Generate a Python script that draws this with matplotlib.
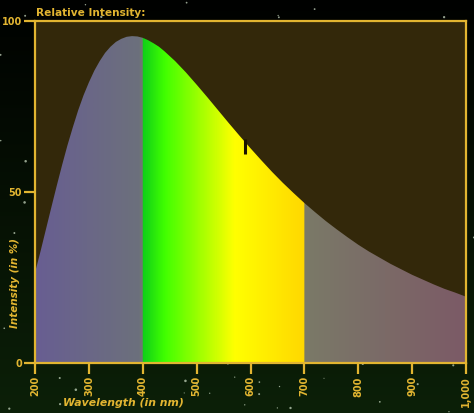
import matplotlib
matplotlib.use('Agg')
import matplotlib.pyplot as plt
import numpy as np
from matplotlib.colors import LinearSegmentedColormap

# values (relative intensity in %)
wavelength = [200, 210, 220, 230, 240, 250, 260, 270, 280, 290, 300, 310, 320, 330,
              340, 350, 360, 370, 380, 390, 400, 410, 420, 430, 440, 460,
              480, 500, 520, 540, 560, 580, 600, 620, 640, 660, 680, 700, 720, 740,
              760, 780, 800, 820, 840, 860, 880, 900, 920, 940, 960, 980, 1000]
intensity = [26.5, 32.6, 39.0, 45.4, 51.7, 57.8, 63.6, 68.9, 73.9, 78.3, 82.1, 85.5,
             88.3, 90.7, 92.5, 93.9, 94.8, 95.4, 95.6, 95.5, 95.1, 94.4, 93.5, 92.5,
             91.2, 88.3, 85.0, 81.4, 77.7, 73.9, 70.1, 66.4, 62.8, 59.3, 55.9, 52.7,
             49.7, 46.8, 44.1, 41.5, 39.1, 36.8, 34.6, 32.6, 30.8, 29.0, 27.4, 25.8,
             24.4, 23.0, 21.7, 20.6, 19.4]
marker_wl = 590
marker_range = [61, 65.5]
xticks = [200, 300, 400, 500, 600, 700, 800, 900, 1000]
xticklabels = ['200', '300', '400', '500', '600', '700', '800', '900', '1,000']
yticks = [0, 50, 100]

gold = '#e2b531'
panel = '#33280a'

fig = plt.figure(figsize=(4.74, 4.13), dpi=100)

# starry background, black at the top going to dark green at the bottom
bg = fig.add_axes([0, 0, 1, 1])
grad = np.linspace(0, 1, 256)
bgcols = np.zeros((256, 1, 3))
bgcols[:, 0, 0] = 0.045 * grad
bgcols[:, 0, 1] = 0.005 + 0.12 * grad
bgcols[:, 0, 2] = 0.03 * grad
bg.imshow(bgcols, aspect='auto', extent=[0, 1, 0, 1], origin='upper')
rng = np.random.default_rng(3)
sx, sy = rng.random(200), rng.random(200)
bg.scatter(sx, sy, s=0.5 + rng.random(200) * 3, color='#d0e0c8', alpha=0.7, lw=0)
bg.set_xlim(0, 1)
bg.set_ylim(0, 1)
bg.axis('off')

ax = fig.add_axes([0.074, 0.121, 0.909, 0.828])
ax.set_facecolor(panel)

# colour bands under the curve
cmap = LinearSegmentedColormap.from_list('spec', [
    (0.0, '#685e92'), (0.24, '#6c707c'), (0.2499, '#707872'),
    (0.25, '#10d018'), (0.30, '#40ff00'), (0.4625, '#ffff00'),
    (0.6249, '#ffd800'), (0.625, '#7a7a68'), (1.0, '#7c5a66')])
img = np.linspace(0, 1, 800)[None, :]
im = ax.imshow(img, cmap=cmap, aspect='auto', extent=[200, 1000, 0, 100],
               origin='lower', zorder=1)
poly = ax.fill_between(wavelength, 0, intensity, color='none', lw=0)
im.set_clip_path(poly.get_paths()[0], transform=ax.transData)

ax.plot([marker_wl, marker_wl], marker_range, color='#1a1400', lw=2.2,
        solid_capstyle='butt', zorder=3)

ax.set_xlim(200, 1000)
ax.set_ylim(0, 100)
for s in ax.spines.values():
    s.set_color(gold)
    s.set_linewidth(1.6)
    s.set_zorder(5)
ax.set_xticks(xticks)
ax.set_xticklabels(xticklabels, rotation=90, fontsize=7, fontweight='bold',
                   color=gold, fontfamily='Liberation Sans Narrow')
ax.set_yticks(yticks)
ax.set_yticklabels([str(v) for v in yticks], fontsize=7, fontweight='bold', color=gold)
ax.tick_params(axis='both', colors=gold, length=8, width=1.6, direction='out', pad=1.5)

fig.text(0.076, 0.968, 'Relative Intensity:', color=gold, fontsize=7.6,
         fontweight='bold', ha='left', va='center')
fig.text(0.26, 0.025, 'Wavelength (in nm)', color=gold, fontsize=7.8,
         fontweight='bold', style='italic', ha='center', va='center')
fig.text(0.032, 0.315, 'Intensity (in %)', color=gold, fontsize=7.5,
         fontweight='bold', style='italic', ha='center', va='center', rotation=90)

fig.savefig('out.png', dpi=100)
